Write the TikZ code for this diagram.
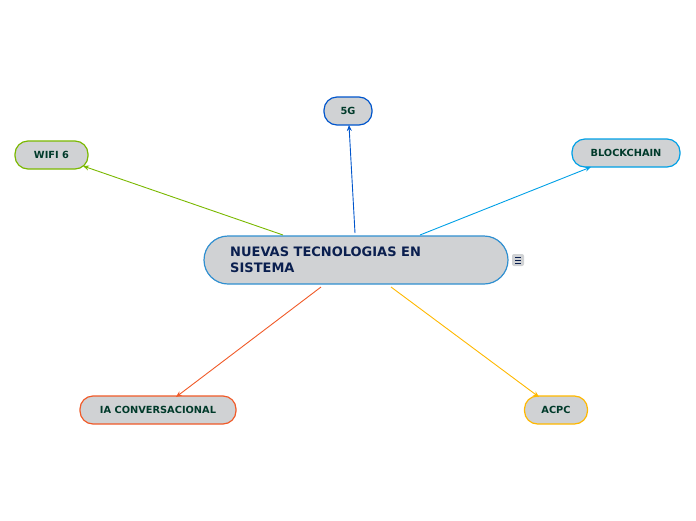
\documentclass[tikz,border=0pt]{standalone}
\usepackage{fontspec}
\setmainfont{DejaVu Sans}
\usetikzlibrary{arrows.meta}
\definecolor{fillg}{HTML}{D0D2D4}
\definecolor{navy}{HTML}{0A1F4F}
\definecolor{leaft}{HTML}{003A2A}
\definecolor{cblue}{HTML}{2F8FD0}
\definecolor{c5g}{HTML}{0055CC}
\definecolor{cwifi}{HTML}{7AB800}
\definecolor{cblock}{HTML}{00A0E6}
\definecolor{cia}{HTML}{F05A28}
\definecolor{cacpc}{HTML}{FFB800}
\begin{document}
\begin{tikzpicture}[x=1pt,y=-1pt,
 leaf/.style={draw=#1,fill=fillg,line width=1.2pt,rounded corners=13pt,font=\bfseries\fontsize{9.8}{11}\selectfont,text=leaft,inner sep=0pt,minimum height=28pt},
 conn/.style={draw=#1,line width=0.9pt,-{Stealth[length=6pt,width=5pt]}}]
\useasboundingbox (0,0) rectangle (696,520);
\node[draw=cblue,fill=fillg,line width=1.2pt,rounded corners=24pt,minimum width=304pt,minimum height=48pt,inner sep=0pt] (c) at (356,260) {};
\node[font=\bfseries\fontsize{13}{16}\selectfont,text=navy,align=left,anchor=west,inner sep=0pt] (ct) at (230,260) {NUEVAS TECNOLOGIAS EN\\SISTEMA};
\node[leaf=c5g,minimum width=48pt] (g5) at (348,111) {5G};
\node[leaf=cwifi,minimum width=73pt] (wifi) at (51.5,155) {WIFI 6};
\node[leaf=cblock,minimum width=108pt] (bc) at (626,153) {BLOCKCHAIN};
\node[leaf=cia,minimum width=156pt] (ia) at (158,410) {IA CONVERSACIONAL};
\node[leaf=cacpc,minimum width=63pt] (acpc) at (556,410) {ACPC};
\coordinate (s1) at (355,233); \coordinate (e1) at (349,125);
\coordinate (s2) at (283,235); \coordinate (e2) at (83,166);
\coordinate (s3) at (420,235); \coordinate (e3) at (591,167);
\coordinate (s4) at (321,287); \coordinate (e4) at (176,397);
\coordinate (s5) at (391,287); \coordinate (e5) at (539,397);
\draw[conn=c5g] (s1) -- (e1);
\draw[conn=cwifi] (s2) -- (e2);
\draw[conn=cblock] (s3) -- (e3);
\draw[conn=cia] (s4) -- (e4);
\draw[conn=cacpc] (s5) -- (e5);
\node[fill=fillg,rounded corners=2pt,minimum size=12pt,inner sep=0pt] (ic) at (518,260) {};
\foreach \dy in {-3,0,3} \draw[navy,line width=0.8pt] ([xshift=-3pt,yshift=\dy pt]ic.center) -- ([xshift=3pt,yshift=\dy pt]ic.center);
\end{tikzpicture}
\end{document}
